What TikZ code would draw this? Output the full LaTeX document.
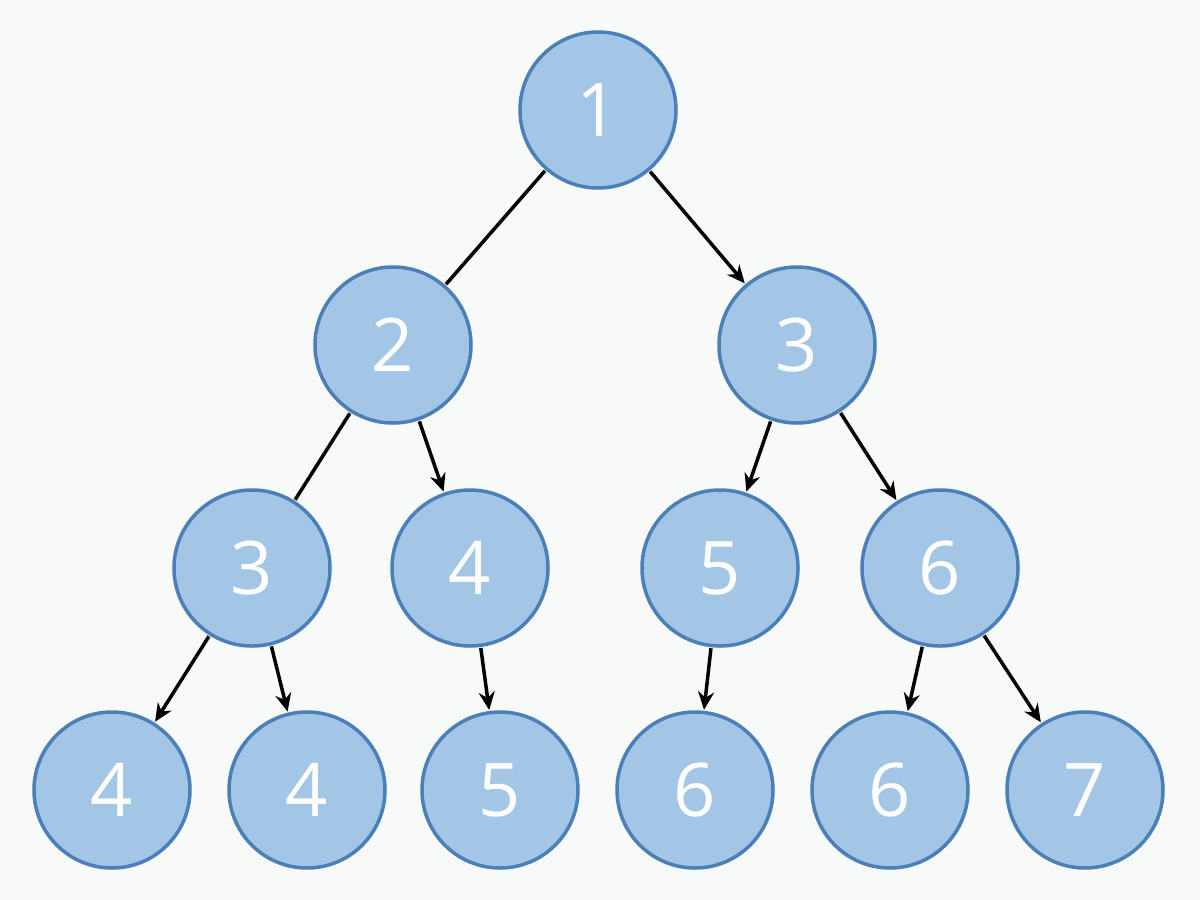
\documentclass[tikz,border=0pt]{standalone}
\usepackage{fontspec}
\setmainfont{Open Sans}
\usetikzlibrary{arrows.meta}
\definecolor{nfill}{HTML}{A4C6E6}
\definecolor{nedge}{HTML}{4A7FB8}
\definecolor{bg}{HTML}{F8F9F9}
\begin{document}
\begin{tikzpicture}[x=1pt,y=-1pt,
  nd/.style={circle,draw=nedge,line width=3.5pt,fill=nfill,minimum size=156pt,inner sep=0pt,text=white,font=\fontsize{74}{74}\selectfont},
  ln/.style={line width=3.5pt,black,shorten >=1pt,shorten <=1pt},
  ar/.style={ln,-{Stealth[length=18pt,width=16pt]}}]
\fill[bg] (0,0) rectangle (1200,900);
\useasboundingbox (0,0) rectangle (1200,900);
\node[nd] (a) at (598,110) {1};
\node[nd] (b) at (393,345) {2};
\node[nd] (c) at (797,345) {3};
\node[nd] (d) at (252,568) {3};
\node[nd] (e) at (470,568) {4};
\node[nd] (f) at (720,568) {5};
\node[nd] (g) at (940,568) {6};
\node[nd] (h) at (112,790) {4};
\node[nd] (i) at (307,790) {4};
\node[nd] (j) at (500,790) {5};
\node[nd] (k) at (695,790) {6};
\node[nd] (l) at (890,790) {6};
\node[nd] (m) at (1085,790) {7};
\draw[ln] (a) -- (b);
\draw[ar] (a) -- (c);
\draw[ln] (b) -- (d);
\draw[ar] (b) -- (e);
\draw[ar] (c) -- (f);
\draw[ar] (c) -- (g);
\draw[ar] (d) -- (h);
\draw[ar] (d) -- (i);
\draw[ar] (e) -- (j);
\draw[ar] (f) -- (k);
\draw[ar] (g) -- (l);
\draw[ar] (g) -- (m);
\end{tikzpicture}
\end{document}
